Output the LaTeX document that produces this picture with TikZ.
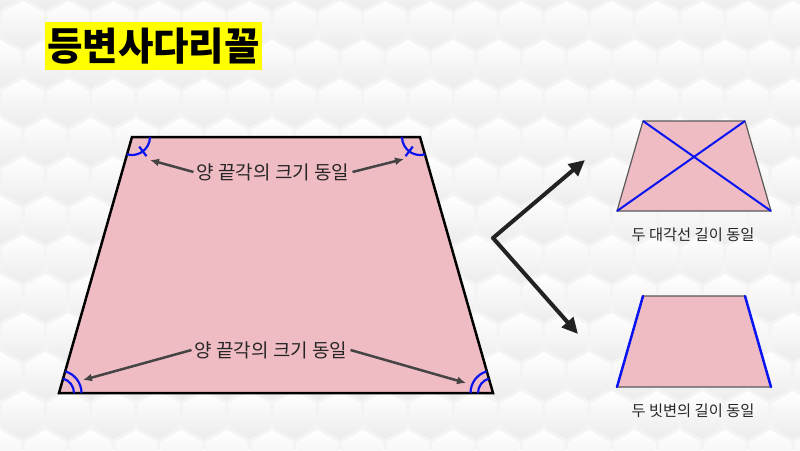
\documentclass[tikz,border=0pt]{standalone}
\usepackage{fontspec}
\setmainfont{Noto Sans CJK KR}
\usetikzlibrary{arrows.meta,calc}
\definecolor{trap}{HTML}{F0BCC4}
\definecolor{bgc}{HTML}{F4F4F4}
\definecolor{hexbot}{HTML}{ECECEE}
\definecolor{arrowgray}{HTML}{444444}
\definecolor{darkarrow}{HTML}{222222}
\definecolor{markblue}{HTML}{0A14F0}
\definecolor{titleyellow}{HTML}{FFFF00}
\tikzset{
  bigtrap/.style={fill=trap, draw=black, line width=2.5pt, line join=miter},
  smalltrap/.style={fill=trap, draw=black!65, line width=1.2pt},
  anglemark/.style={draw=markblue, line width=2.2pt},
  bluemark/.style={draw=markblue, line width=2pt},
  labelarrow/.style={draw=arrowgray, line width=2.5pt, -{Latex[length=9pt,width=8pt]}},
  bigarrow/.style={draw=darkarrow, line width=4pt, -{Triangle[length=16pt,width=15pt]}},
  biglabel/.style={font=\fontsize{19}{23}\selectfont, text=black!85, inner sep=3pt},
  smalllabel/.style={font=\fontsize{15.3}{18}\selectfont, text=black!85, inner sep=2pt},
  hexcell/.style={top color=white, bottom color=hexbot},
}
\begin{document}
\begin{tikzpicture}[x=1pt,y=-1pt]
\useasboundingbox (0,0) rectangle (800,450);
\fill[bgc] (0,0) rectangle (800,450);
\begin{scope}
\clip (0,0) rectangle (800,450);
\foreach \r in {0,...,12} {
  \foreach \c in {-1,...,18} {
    \pgfmathsetmacro\cx{22.9+45.3*\c+(1-mod(\r,2))*22.65}
    \pgfmathsetmacro\cy{-14+39*\r}
    \shade[hexcell] (\cx,\cy-24) -- (\cx+20.8,\cy-12) -- (\cx+20.8,\cy+12)
      -- (\cx,\cy+24) -- (\cx-20.8,\cy+12) -- (\cx-20.8,\cy-12) -- cycle;
  }
}
\end{scope}

% title
\node[fill=titleyellow, minimum width=217pt, minimum height=48pt, inner sep=0pt,
      font=\bfseries\fontsize{38.5}{42}\selectfont] (title) at (153.5,46) {등변사다리꼴};

% big trapezoid
\coordinate (A) at (132,137);
\coordinate (B) at (420,137);
\coordinate (C) at (493,393);
\coordinate (D) at (59,393);
\path[bigtrap] (A) -- (B) -- (C) -- (D) -- cycle;

% angle marks
\draw[anglemark] (A) ++(0:18) arc[start angle=0, end angle=105.9, radius=18];
\draw[anglemark] ($(A)+(52.95:12)$) -- ($(A)+(52.95:24)$);
\draw[anglemark] (B) ++(180:18) arc[start angle=180, end angle=74.1, radius=18];
\draw[anglemark] ($(B)+(127.05:12)$) -- ($(B)+(127.05:24)$);
\draw[anglemark] (D) ++(0:15) arc[start angle=0, end angle=-74.1, radius=15];
\draw[anglemark] (D) ++(0:22.5) arc[start angle=0, end angle=-74.1, radius=22.5];
\draw[anglemark] (C) ++(180:15) arc[start angle=180, end angle=254.1, radius=15];
\draw[anglemark] (C) ++(180:22.5) arc[start angle=180, end angle=254.1, radius=22.5];

% labels and arrows
\node[biglabel] (toplabel) at (273,172) {양 끝각의 크기 동일};
\node[biglabel] (botlabel) at (271,350) {양 끝각의 크기 동일};
\coordinate (tlend) at (150,160);
\coordinate (trend) at (404,159);
\coordinate (blend) at (83,380);
\coordinate (brend) at (466,383);
\draw[labelarrow] (toplabel.west) -- (tlend);
\draw[labelarrow] (toplabel.east) -- (trend);
\draw[labelarrow] (botlabel.west) -- (blend);
\draw[labelarrow] (botlabel.east) -- (brend);

% V arrow
\coordinate (vcorner) at (493,238);
\coordinate (vup) at (585,160);
\coordinate (vdown) at (578,334);
\draw[bigarrow] (vcorner) -- (vup);
\draw[bigarrow] (vcorner) -- (vdown);
\fill[darkarrow] (vcorner) circle (2pt);

% small trapezoid 1
\coordinate (P1) at (643,121);
\coordinate (P2) at (745,121);
\coordinate (P3) at (771,211);
\coordinate (P4) at (617,211);
\path[smalltrap] (P1) -- (P2) -- (P3) -- (P4) -- cycle;
\draw[bluemark] (P1) -- (P3);
\draw[bluemark] (P2) -- (P4);
\node[smalllabel] (lab1) at (693,235) {두 대각선 길이 동일};

% small trapezoid 2
\coordinate (Q1) at (643,296);
\coordinate (Q2) at (745,296);
\coordinate (Q3) at (771,387);
\coordinate (Q4) at (617,387);
\path[smalltrap] (Q1) -- (Q2) -- (Q3) -- (Q4) -- cycle;
\draw[bluemark, line width=2.5pt, line cap=round] (Q1) -- (Q4);
\draw[bluemark, line width=2.5pt, line cap=round] (Q2) -- (Q3);
\node[smalllabel] (lab2) at (693,411) {두 빗변의 길이 동일};
\end{tikzpicture}
\end{document}
